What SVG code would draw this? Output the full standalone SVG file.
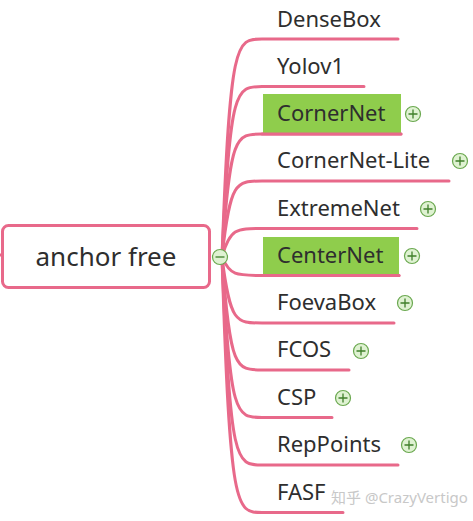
<svg xmlns="http://www.w3.org/2000/svg" width="473" height="521" viewBox="0 0 473 521">
<style>
.ln{fill:none;stroke:#e8698a;stroke-width:3;stroke-linecap:round}
.t{font-family:"Noto Sans","Open Sans",sans-serif;font-size:22px;fill:#2e2e2e}
.hl{fill:#8fcd4c}
.pl{fill:#dff2d2;stroke:#6aa84f;stroke-width:1.2}
.pm{stroke:#3f7f2a;stroke-width:1.3}
</style>
<rect width="473" height="521" fill="#fff"/>
<g id="connectors">
<path class="ln" d="M222 257 C230 39,236 39,262 39 H398"/>
<path class="ln" d="M222 257 C230 86.5,236 86.5,262 86.5 H364"/>
<path class="ln" d="M222 257 C230 134,236 134,262 134 H401"/>
<path class="ln" d="M222 257 C230 181,236 181,262 181 H449"/>
<path class="ln" d="M222 257 C230 228.5,236 228.5,262 228.5 H417"/>
<path class="ln" d="M222 257 C230 275.5,236 275.5,262 275.5 H399"/>
<path class="ln" d="M222 257 C230 323,236 323,262 323 H394"/>
<path class="ln" d="M222 257 C230 370,236 370,262 370 H349"/>
<path class="ln" d="M222 257 C230 417.5,236 417.5,262 417.5 H332"/>
<path class="ln" d="M222 257 C230 465,236 465,262 465 H398"/>
<path class="ln" d="M222 257 C230 512.5,236 512.5,262 512.5 H343"/>
<line class="ln" x1="0" y1="255" x2="2" y2="255"/>
</g>
<g id="root">
<rect x="2.5" y="225.5" width="207" height="62" rx="6" fill="#fff" stroke="#e8698a" stroke-width="3"/>
<text x="106" y="266" text-anchor="middle" font-family="Noto Sans,sans-serif" font-size="26" fill="#2e2e2e">anchor free</text>
<circle class="pl" cx="220" cy="257" r="7.5"/>
<line class="pm" x1="215.5" y1="257" x2="224.5" y2="257"/>
</g>
<g id="n-densebox"><text class="t" x="277" y="27">DenseBox</text></g>
<g id="n-yolov1"><text class="t" x="277" y="74">Yolov1</text></g>
<g id="n-cornernet">
<rect class="hl" x="263" y="94" width="138" height="40"/>
<path class="ln" d="M262 134 H401"/>
<text class="t" x="277" y="121">CornerNet</text>
<circle class="pl" cx="413" cy="114" r="7.5"/><path class="pm" d="M408.5 114H417.5M413 109.5V118.5"/>
</g>
<g id="n-cornernet-lite">
<text class="t" x="277" y="168">CornerNet-Lite</text>
<circle class="pl" cx="460" cy="161" r="7.5"/><path class="pm" d="M455.5 161H464.5M460 156.5V165.5"/>
</g>
<g id="n-extremenet">
<text class="t" x="277" y="216">ExtremeNet</text>
<circle class="pl" cx="428" cy="209" r="7.5"/><path class="pm" d="M423.5 209H432.5M428 204.5V213.5"/>
</g>
<g id="n-centernet">
<rect class="hl" x="263" y="237" width="136" height="38.5"/>
<path class="ln" d="M262 275.5 H399"/>
<text class="t" x="277" y="263">CenterNet</text>
<circle class="pl" cx="412" cy="256" r="7.5"/><path class="pm" d="M407.5 256H416.5M412 251.5V260.5"/>
</g>
<g id="n-foevabox">
<text class="t" x="277" y="310">FoevaBox</text>
<circle class="pl" cx="405" cy="303" r="7.5"/><path class="pm" d="M400.5 303H409.5M405 298.5V307.5"/>
</g>
<g id="n-fcos">
<text class="t" x="277" y="357">FCOS</text>
<circle class="pl" cx="361" cy="351" r="7.5"/><path class="pm" d="M356.5 351H365.5M361 346.5V355.5"/>
</g>
<g id="n-csp">
<text class="t" x="277" y="405">CSP</text>
<circle class="pl" cx="343" cy="398" r="7.5"/><path class="pm" d="M338.5 398H347.5M343 393.5V402.5"/>
</g>
<g id="n-reppoints">
<text class="t" x="277" y="452">RepPoints</text>
<circle class="pl" cx="409" cy="445" r="7.5"/><path class="pm" d="M404.5 445H413.5M409 440.5V449.5"/>
</g>
<g id="n-fasf"><text class="t" x="277" y="500">FASF</text></g>
<text x="331" y="503" font-family="Noto Sans,Noto Sans CJK SC,sans-serif" font-size="15" fill="#c8c8c8">知乎 @CrazyVertigo</text>
</svg>
